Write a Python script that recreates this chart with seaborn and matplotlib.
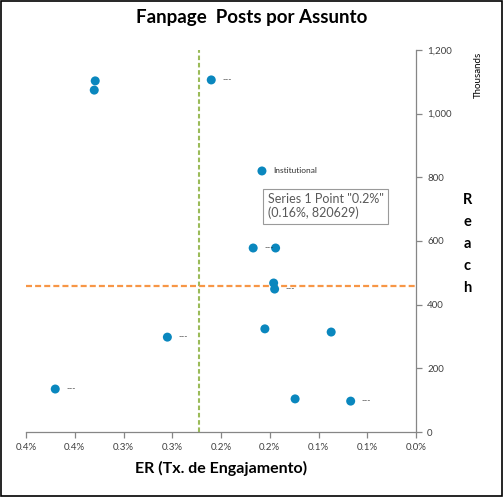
import pandas as pd
import matplotlib
matplotlib.use("Agg")
import matplotlib.pyplot as plt
import seaborn as sns

# data (ER in %, reach in thousands)
er = [0.329, 0.330, 0.210, 0.158, 0.167, 0.144, 0.146, 0.145,
      0.155, 0.087, 0.255, 0.370, 0.124, 0.067]
reach = [1103, 1074, 1106, 820, 578, 578, 468, 449,
         324, 314, 298, 135, 104, 97]
labels = ["", "", "---", "Institutional", "---", "", "", "---",
          "", "", "---", "---", "", "---"]

er_ref = 0.2226      # green dashed line
reach_ref = 459      # orange dashed line

x_ticks = [0.40, 0.35, 0.30, 0.25, 0.20, 0.15, 0.10, 0.05, 0.00]
x_tick_labels = ["0.4%", "0.4%", "0.3%", "0.3%", "0.2%", "0.2%", "0.1%", "0.1%", "0.0%"]
y_ticks = [0, 200, 400, 600, 800, 1000, 1200]
y_tick_labels = ["0", "200", "400", "600", "800", "1,000", "1,200"]

df = pd.DataFrame({"er": er, "reach": reach, "label": labels})

sns.set_style("white")
plt.rcParams["font.family"] = ["Lato", "DejaVu Sans"]

fig = plt.figure(figsize=(5.03, 4.97), dpi=100)
ax = fig.add_axes([26 / 503, 65 / 497, 390 / 503, 382 / 497])

axis_grey = "#868686"
text_grey = "#404040"

ax.axvline(er_ref, color="#9BBB59", lw=1.5, ls=(0, (2.2, 1.3)), zorder=1)
ax.axhline(reach_ref, color="#F79646", lw=1.6, ls=(0, (2.7, 1.4)), zorder=1)

sns.scatterplot(data=df, x="er", y="reach", ax=ax, color="#0A87BE",
                s=42, edgecolor="none", zorder=3, legend=False)

for _, row in df.iterrows():
    if row["label"]:
        ax.annotate(row["label"], (row["er"], row["reach"]), xytext=(8, 0),
                    textcoords="offset points", fontsize=6, color="#303030",
                    va="center", ha="left")

# Excel hover tooltip
ax.annotate('Series 1 Point "0.2%"\n(0.16%, 820629)', (0.158, 820),
            xytext=(4, -16), textcoords="offset points", fontsize=9,
            color="#595959", va="top", ha="left", linespacing=1.15,
            bbox=dict(boxstyle="square,pad=0.35", fc="white", ec="#9A9A9A", lw=0.8))

ax.set_xlim(0.40, 0.00)
ax.set_ylim(0, 1200)
ax.set_xticks(x_ticks)
ax.set_xticklabels(x_tick_labels)
ax.set_yticks(y_ticks)
ax.set_yticklabels(y_tick_labels)
ax.yaxis.tick_right()

for side in ["top", "left"]:
    ax.spines[side].set_visible(False)
for side in ["bottom", "right"]:
    ax.spines[side].set_color(axis_grey)
    ax.spines[side].set_linewidth(0.9)

ax.tick_params(axis="both", direction="out", length=4, width=0.9, color=axis_grey,
               labelsize=7, labelcolor=text_grey, pad=4)
ax.tick_params(axis="x", bottom=True)
ax.tick_params(axis="y", right=True)

ax.set_xlabel("ER (Tx. de Engajamento)", fontsize=11.5, fontweight="bold",
              color="black", labelpad=6)
ax.set_ylabel("")

fig.text(252 / 503, 1 - 18 / 497, "Fanpage  Posts por Assunto", ha="center",
         va="center", fontsize=13.5, fontweight="bold", color="black")
fig.text(467 / 503, 1 - 244 / 497, "R\ne\na\nc\nh", ha="center", va="center",
         fontsize=10.5, fontweight="bold", color="black", linespacing=1.75)
fig.text(478 / 503, 1 - 75 / 497, "Thousands", ha="center", va="center",
         rotation=90, fontsize=7, color="black")

# chart border
fig.patches.append(plt.Rectangle((0.002, 0.002), 0.996, 0.996, transform=fig.transFigure,
                                 fill=False, ec="black", lw=1.2))

fig.savefig("out.png", dpi=100)
